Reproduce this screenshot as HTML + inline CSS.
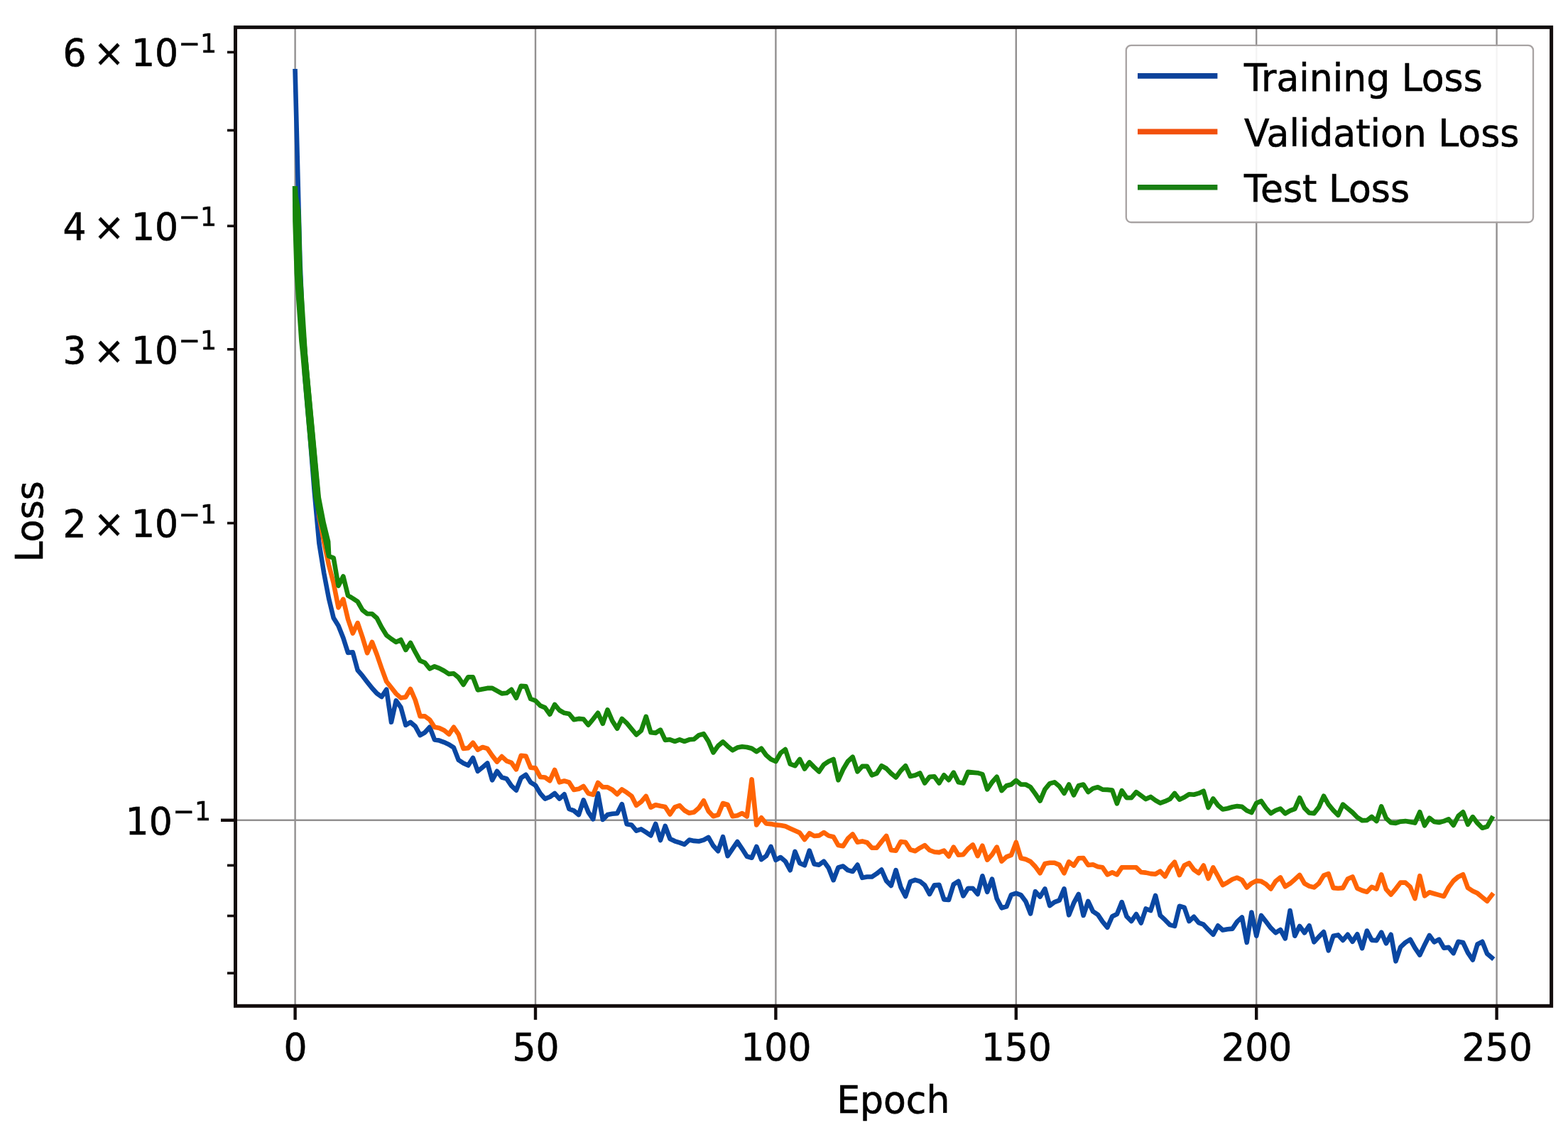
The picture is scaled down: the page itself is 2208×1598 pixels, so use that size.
<!DOCTYPE html>
<html lang="en"><head><meta charset="utf-8"><title>Loss vs Epoch</title>
<style>html,body{margin:0;padding:0;background:#fff;}body{width:2208px;height:1598px;overflow:hidden;}svg{display:block;}text{font-family:"DejaVu Sans","Liberation Sans",sans-serif;fill:#000;stroke:#000;stroke-width:0.6px;}</style>
</head><body>
<svg width="2208" height="1598" viewBox="0 0 2208 1598">
<rect x="0" y="0" width="2208" height="1598" fill="#ffffff"/>
<g stroke="#929090" stroke-width="2.4" fill="none">
<line x1="415.6" y1="38.4" x2="415.6" y2="1416.3"/>
<line x1="754.0" y1="38.4" x2="754.0" y2="1416.3"/>
<line x1="1092.4" y1="38.4" x2="1092.4" y2="1416.3"/>
<line x1="1430.8" y1="38.4" x2="1430.8" y2="1416.3"/>
<line x1="1769.2" y1="38.4" x2="1769.2" y2="1416.3"/>
<line x1="2107.6" y1="38.4" x2="2107.6" y2="1416.3"/>
<line x1="331.5" y1="1154.8" x2="2184.6" y2="1154.8"/>
</g>
<clipPath id="ax"><rect x="331.5" y="38.4" width="1853.1" height="1377.9"/></clipPath>
<g clip-path="url(#ax)" fill="none" stroke-width="6.6" stroke-linejoin="round" stroke-linecap="square">
<polyline stroke="#0a47a2" points="415.6,100.3 422.4,366.0 429.1,528.0 435.9,606.0 442.7,692.0 449.4,765.0 456.2,807.0 463.0,842.5 469.7,870.0 476.5,881.0 483.3,898.0 490.0,918.9 496.8,918.4 503.6,943.5 510.4,951.4 517.1,960.2 523.9,968.8 530.7,976.3 537.4,981.0 544.2,970.8 551.0,1016.7 557.7,986.4 564.5,996.0 571.3,1021.0 578.0,1016.9 584.8,1022.6 591.6,1035.1 598.3,1031.3 605.1,1023.8 611.9,1041.4 618.6,1042.6 625.4,1045.1 632.2,1048.2 638.9,1052.6 645.7,1070.1 652.5,1074.5 659.2,1077.6 666.0,1067.0 672.8,1085.8 679.6,1080.2 686.3,1074.5 693.1,1098.3 699.9,1085.8 706.6,1094.5 713.4,1096.4 720.2,1106.4 726.9,1112.7 733.7,1095.2 740.5,1090.8 747.2,1101.4 754.0,1105.8 760.8,1117.1 767.5,1124.6 774.3,1122.0 781.1,1117.0 787.8,1124.6 794.6,1118.3 801.4,1138.9 808.1,1141.4 814.9,1147.1 821.7,1126.4 828.4,1143.3 835.2,1153.3 842.0,1117.0 848.8,1154.0 855.5,1147.1 862.3,1145.8 869.1,1145.2 875.8,1132.1 882.6,1160.2 889.4,1161.5 896.1,1169.6 902.9,1167.4 909.7,1171.8 916.4,1176.4 923.2,1160.0 930.0,1183.0 936.7,1163.0 943.5,1181.0 950.3,1184.3 957.0,1186.4 963.8,1188.9 970.6,1182.6 977.3,1183.9 984.1,1184.5 990.9,1182.6 997.6,1178.9 1004.4,1190.8 1011.2,1198.3 1018.0,1178.2 1024.7,1205.2 1031.5,1195.1 1038.3,1185.1 1045.0,1195.1 1051.8,1205.8 1058.6,1207.7 1065.3,1192.0 1072.1,1210.2 1078.9,1205.2 1085.6,1192.0 1092.4,1210.8 1099.2,1207.0 1105.9,1212.7 1112.7,1225.2 1119.5,1198.9 1126.2,1215.2 1133.0,1218.3 1139.8,1197.6 1146.5,1216.4 1153.3,1217.7 1160.1,1212.7 1166.8,1222.0 1173.6,1239.2 1180.4,1221.4 1187.2,1219.5 1193.9,1225.1 1200.7,1227.0 1207.5,1217.6 1214.2,1235.8 1221.0,1234.5 1227.8,1234.5 1234.5,1230.1 1241.3,1224.5 1248.1,1240.1 1254.8,1247.0 1261.6,1225.1 1268.4,1248.9 1275.1,1262.0 1281.9,1241.4 1288.7,1238.9 1295.4,1240.8 1302.2,1246.4 1309.0,1258.9 1315.7,1246.4 1322.5,1245.8 1329.3,1266.4 1336.0,1267.0 1342.8,1245.1 1349.6,1240.8 1356.4,1261.4 1363.1,1250.8 1369.9,1250.8 1376.7,1258.9 1383.4,1233.3 1390.2,1255.8 1397.0,1237.6 1403.7,1265.2 1410.5,1278.3 1417.3,1276.4 1424.0,1259.8 1430.8,1257.6 1437.6,1260.1 1444.3,1268.9 1451.1,1286.4 1457.9,1255.1 1464.6,1262.6 1471.4,1251.4 1478.2,1275.1 1484.9,1270.1 1491.7,1267.6 1498.5,1251.4 1505.2,1288.3 1512.0,1271.4 1518.8,1258.9 1525.6,1288.9 1532.3,1268.9 1539.1,1283.3 1545.9,1287.7 1552.6,1297.7 1559.4,1305.8 1566.2,1290.2 1572.9,1287.0 1579.7,1270.1 1586.5,1290.2 1593.2,1297.0 1600.0,1287.0 1606.8,1299.5 1613.5,1279.5 1620.3,1282.0 1627.1,1260.8 1633.8,1288.9 1640.6,1295.2 1647.4,1302.1 1654.1,1303.9 1660.9,1275.8 1667.7,1277.6 1674.4,1297.0 1681.2,1290.8 1688.0,1299.2 1694.8,1301.7 1701.5,1308.9 1708.3,1315.8 1715.1,1303.3 1721.8,1309.5 1728.6,1308.3 1735.4,1307.6 1742.1,1297.6 1748.9,1291.4 1755.7,1327.0 1762.4,1284.5 1769.2,1317.7 1776.0,1288.9 1782.7,1297.6 1789.5,1306.4 1796.3,1313.3 1803.0,1308.9 1809.8,1321.4 1816.6,1282.0 1823.3,1317.7 1830.1,1303.9 1836.9,1313.3 1843.6,1303.3 1850.4,1326.4 1857.2,1318.9 1864.0,1312.0 1870.7,1338.3 1877.5,1317.7 1884.3,1316.4 1891.0,1323.9 1897.8,1315.8 1904.6,1325.8 1911.3,1315.2 1918.1,1335.2 1924.9,1310.5 1931.6,1323.6 1938.4,1324.2 1945.2,1312.6 1951.9,1328.3 1958.7,1315.8 1965.5,1353.3 1972.2,1333.3 1979.0,1327.0 1985.8,1322.7 1992.5,1334.6 1999.3,1344.6 2006.1,1330.2 2012.8,1317.0 2019.6,1326.4 2026.4,1322.7 2033.2,1334.6 2039.9,1333.9 2046.7,1342.1 2053.5,1325.8 2060.2,1327.0 2067.0,1341.4 2073.8,1351.5 2080.5,1329.5 2087.3,1325.8 2094.1,1342.7 2100.8,1348.3"/>
<polyline stroke="#ff6404" points="415.6,280.0 422.4,425.0 429.1,503.0 435.9,578.0 442.7,655.0 449.4,727.0 456.2,763.0 463.0,795.5 469.7,821.0 476.5,855.4 483.3,843.6 490.0,871.7 496.8,891.7 503.6,877.1 510.4,897.0 517.1,919.3 523.9,904.0 530.7,921.5 537.4,941.0 544.2,959.5 551.0,968.0 557.7,976.6 564.5,982.6 571.3,981.4 578.0,970.0 584.8,985.7 591.6,1008.5 598.3,1008.3 605.1,1013.3 611.9,1023.8 618.6,1025.1 625.4,1028.2 632.2,1033.8 638.9,1023.8 645.7,1033.8 652.5,1053.9 659.2,1053.2 666.0,1045.7 672.8,1055.7 679.6,1052.0 686.3,1053.9 693.1,1063.9 699.9,1072.6 706.6,1065.1 713.4,1071.4 720.2,1073.9 726.9,1083.3 733.7,1063.9 740.5,1064.5 747.2,1080.8 754.0,1081.4 760.8,1093.9 767.5,1094.5 774.3,1099.2 781.1,1083.9 787.8,1101.4 794.6,1099.5 801.4,1101.4 808.1,1112.0 814.9,1110.8 821.7,1107.0 828.4,1117.0 835.2,1118.9 842.0,1102.0 848.8,1108.3 855.5,1108.3 862.3,1112.0 869.1,1118.3 875.8,1111.4 882.6,1115.8 889.4,1120.8 896.1,1133.9 902.9,1128.9 909.7,1121.0 916.4,1136.7 923.2,1133.2 930.0,1134.8 936.7,1136.0 943.5,1146.4 950.3,1136.4 957.0,1134.2 963.8,1141.0 970.6,1144.8 977.3,1143.5 984.1,1137.6 990.9,1127.3 997.6,1142.0 1004.4,1149.2 1011.2,1147.4 1018.0,1131.0 1024.7,1133.0 1031.5,1149.2 1038.3,1148.2 1045.0,1145.1 1051.8,1149.5 1058.6,1097.2 1065.3,1161.4 1072.1,1151.3 1078.9,1159.5 1085.6,1160.1 1092.4,1161.4 1099.2,1162.0 1105.9,1163.2 1112.7,1166.4 1119.5,1169.5 1126.2,1172.6 1133.0,1182.0 1139.8,1173.2 1146.5,1177.0 1153.3,1176.4 1160.1,1172.0 1166.8,1176.6 1173.6,1178.2 1180.4,1190.1 1187.2,1191.3 1193.9,1180.7 1200.7,1174.4 1207.5,1185.7 1214.2,1184.4 1221.0,1186.3 1227.8,1193.8 1234.5,1193.8 1241.3,1185.1 1248.1,1176.9 1254.8,1197.0 1261.6,1197.6 1268.4,1185.1 1275.1,1185.7 1281.9,1196.3 1288.7,1198.2 1295.4,1193.8 1302.2,1190.1 1309.0,1197.0 1315.7,1199.5 1322.5,1200.1 1329.3,1197.6 1336.0,1205.7 1342.8,1192.6 1349.6,1203.8 1356.4,1203.2 1363.1,1195.1 1369.9,1189.4 1376.7,1205.1 1383.4,1190.7 1390.2,1210.7 1397.0,1203.2 1403.7,1192.6 1410.5,1212.6 1417.3,1206.3 1424.0,1203.8 1430.8,1185.9 1437.6,1208.2 1444.3,1209.8 1451.1,1213.0 1457.9,1220.1 1464.6,1229.3 1471.4,1216.0 1478.2,1214.8 1484.9,1214.8 1491.7,1217.6 1498.5,1229.3 1505.2,1213.3 1512.0,1218.6 1518.8,1208.3 1525.6,1208.0 1532.3,1218.0 1539.1,1217.3 1545.9,1220.3 1552.6,1221.3 1559.4,1231.4 1566.2,1228.2 1572.9,1231.4 1579.7,1221.3 1586.5,1221.3 1593.2,1221.3 1600.0,1221.3 1606.8,1228.0 1613.5,1228.6 1620.3,1230.1 1627.1,1230.7 1633.8,1226.7 1640.6,1233.9 1647.4,1221.3 1654.1,1213.8 1660.9,1232.0 1667.7,1218.5 1674.4,1215.1 1681.2,1224.5 1688.0,1229.2 1694.8,1218.5 1701.5,1237.0 1708.3,1221.3 1715.1,1233.5 1721.8,1246.0 1728.6,1242.3 1735.4,1238.0 1742.1,1235.7 1748.9,1238.9 1755.7,1249.5 1762.4,1243.6 1769.2,1240.1 1776.0,1240.8 1782.7,1244.8 1789.5,1251.5 1796.3,1240.8 1803.0,1235.4 1809.8,1248.2 1816.6,1243.9 1823.3,1238.2 1830.1,1231.9 1836.9,1243.8 1843.6,1247.6 1850.4,1249.4 1857.2,1243.8 1864.0,1232.6 1870.7,1230.1 1877.5,1250.1 1884.3,1250.7 1891.0,1250.1 1897.8,1237.6 1904.6,1234.4 1911.3,1250.7 1918.1,1253.8 1924.9,1255.7 1931.6,1248.8 1938.4,1251.6 1945.2,1231.3 1951.9,1252.0 1958.7,1259.5 1965.5,1251.3 1972.2,1242.6 1979.0,1242.6 1985.8,1248.8 1992.5,1265.1 1999.3,1233.2 2006.1,1261.3 2012.8,1256.3 2019.6,1258.2 2026.4,1260.1 2033.2,1262.0 2039.9,1249.4 2046.7,1240.1 2053.5,1234.4 2060.2,1231.3 2067.0,1250.1 2073.8,1254.5 2080.5,1257.6 2087.3,1263.2 2094.1,1268.8 2100.8,1260.1"/>
<polyline stroke="#178509" points="415.6,266.0 422.4,410.0 429.1,491.0 435.9,566.0 442.7,640.0 449.4,714.8 456.2,749.5 463.0,783.0 469.7,785.6 476.5,824.8 483.3,811.4 490.0,838.4 496.8,842.5 503.6,847.0 510.4,858.9 517.1,864.2 523.9,864.2 530.7,870.3 537.4,883.2 544.2,894.3 551.0,899.5 557.7,904.0 564.5,900.8 571.3,915.1 578.0,905.0 584.8,918.2 591.6,930.3 598.3,933.0 605.1,941.5 611.9,938.3 618.6,940.8 625.4,944.5 632.2,948.9 638.9,948.3 645.7,953.9 652.5,963.9 659.2,953.3 666.0,953.3 672.8,971.4 679.6,970.2 686.3,968.9 693.1,968.9 699.9,972.7 706.6,976.4 713.4,975.8 720.2,970.8 726.9,982.7 733.7,965.8 740.5,966.4 747.2,984.0 754.0,986.5 760.8,993.5 767.5,996.4 774.3,1005.7 781.1,991.9 787.8,1000.0 794.6,1003.8 801.4,1005.0 808.1,1013.2 814.9,1011.9 821.7,1012.5 828.4,1020.7 835.2,1012.5 842.0,1003.8 848.8,1018.8 855.5,999.4 862.3,1015.0 869.1,1025.7 875.8,1011.9 882.6,1018.2 889.4,1026.3 896.1,1034.4 902.9,1028.8 909.7,1008.8 916.4,1031.3 923.2,1031.9 930.0,1027.6 936.7,1041.9 943.5,1041.3 950.3,1043.8 957.0,1041.3 963.8,1043.8 970.6,1041.3 977.3,1040.7 984.1,1035.1 990.9,1033.2 997.6,1043.8 1004.4,1059.5 1011.2,1050.1 1018.0,1044.4 1024.7,1050.7 1031.5,1056.3 1038.3,1052.6 1045.0,1051.3 1051.8,1052.0 1058.6,1053.8 1065.3,1058.2 1072.1,1053.8 1078.9,1063.2 1085.6,1068.9 1092.4,1072.0 1099.2,1060.1 1105.9,1055.1 1112.7,1075.7 1119.5,1078.2 1126.2,1068.9 1133.0,1082.6 1139.8,1073.2 1146.5,1080.1 1153.3,1086.4 1160.1,1076.4 1166.8,1072.0 1173.6,1068.9 1180.4,1098.3 1187.2,1083.3 1193.9,1072.0 1200.7,1065.7 1207.5,1086.4 1214.2,1078.9 1221.0,1078.9 1227.8,1091.4 1234.5,1088.9 1241.3,1078.2 1248.1,1082.0 1254.8,1088.9 1261.6,1094.5 1268.4,1085.1 1275.1,1078.2 1281.9,1093.0 1288.7,1091.6 1295.4,1088.5 1302.2,1102.6 1309.0,1093.8 1315.7,1093.2 1322.5,1102.6 1329.3,1091.3 1336.0,1098.2 1342.8,1087.6 1349.6,1101.3 1356.4,1102.6 1363.1,1086.9 1369.9,1087.6 1376.7,1088.2 1383.4,1090.1 1390.2,1111.4 1397.0,1101.3 1403.7,1093.8 1410.5,1113.2 1417.3,1106.3 1424.0,1104.5 1430.8,1098.8 1437.6,1104.5 1444.3,1104.5 1451.1,1108.2 1457.9,1117.6 1464.6,1127.6 1471.4,1111.4 1478.2,1103.2 1484.9,1101.3 1491.7,1107.0 1498.5,1117.0 1505.2,1104.5 1512.0,1119.5 1518.8,1106.3 1525.6,1104.5 1532.3,1115.1 1539.1,1110.1 1545.9,1108.2 1552.6,1111.6 1559.4,1111.9 1566.2,1112.6 1572.9,1131.3 1579.7,1113.2 1586.5,1123.2 1593.2,1123.2 1600.0,1115.1 1606.8,1120.1 1613.5,1125.1 1620.3,1121.9 1627.1,1126.9 1633.8,1130.7 1640.6,1128.2 1647.4,1125.1 1654.1,1116.9 1660.9,1125.7 1667.7,1122.6 1674.4,1118.2 1681.2,1118.8 1688.0,1116.9 1694.8,1113.8 1701.5,1137.0 1708.3,1124.4 1715.1,1133.8 1721.8,1139.5 1728.6,1138.2 1735.4,1136.3 1742.1,1135.1 1748.9,1135.7 1755.7,1141.3 1762.4,1144.0 1769.2,1130.7 1776.0,1127.9 1782.7,1137.6 1789.5,1145.1 1796.3,1141.0 1803.0,1138.5 1809.8,1145.4 1816.6,1141.4 1823.3,1138.9 1830.1,1123.2 1836.9,1137.6 1843.6,1144.5 1850.4,1145.1 1857.2,1136.4 1864.0,1120.7 1870.7,1132.6 1877.5,1140.8 1884.3,1147.6 1891.0,1132.6 1897.8,1138.2 1904.6,1143.9 1911.3,1150.8 1918.1,1155.1 1924.9,1155.0 1931.6,1149.8 1938.4,1156.1 1945.2,1135.4 1951.9,1152.0 1958.7,1158.3 1965.5,1158.9 1972.2,1156.7 1979.0,1156.1 1985.8,1157.3 1992.5,1158.6 1999.3,1143.3 2006.1,1162.3 2012.8,1151.7 2019.6,1157.0 2026.4,1158.0 2033.2,1156.1 2039.9,1153.3 2046.7,1162.0 2053.5,1148.9 2060.2,1143.3 2067.0,1160.8 2073.8,1150.1 2080.5,1158.9 2087.3,1165.8 2094.1,1163.9 2100.8,1152.0"/>
<polygon fill="#178509" stroke="none" points="411.8,262.0 412.2,312.0 414.5,385.0 421.2,481.0 423.2,500.0 431.9,600.0 441.3,700.0 448.6,735.0 455.6,762.0 459.6,781.0 466.4,781.0 465.4,762.0 458.8,735.0 452.0,700.0 442.6,600.0 433.2,500.0 432.0,481.0 425.9,385.0 424.0,312.0 423.3,295.0 419.6,275.0 419.0,262.0"/>
</g>
<g stroke="#120c0c" fill="none">
<line x1="415.6" y1="1416.3" x2="415.6" y2="1435.8" stroke-width="4.4"/>
<line x1="754.0" y1="1416.3" x2="754.0" y2="1435.8" stroke-width="4.4"/>
<line x1="1092.4" y1="1416.3" x2="1092.4" y2="1435.8" stroke-width="4.4"/>
<line x1="1430.8" y1="1416.3" x2="1430.8" y2="1435.8" stroke-width="4.4"/>
<line x1="1769.2" y1="1416.3" x2="1769.2" y2="1435.8" stroke-width="4.4"/>
<line x1="2107.6" y1="1416.3" x2="2107.6" y2="1435.8" stroke-width="4.4"/>
<line x1="311.0" y1="1154.8" x2="331.5" y2="1154.8" stroke-width="4.4"/>
<line x1="320.0" y1="73.5" x2="331.5" y2="73.5" stroke-width="3.6"/>
<line x1="320.0" y1="183.5" x2="331.5" y2="183.5" stroke-width="3.6"/>
<line x1="320.0" y1="318.2" x2="331.5" y2="318.2" stroke-width="3.6"/>
<line x1="320.0" y1="491.8" x2="331.5" y2="491.8" stroke-width="3.6"/>
<line x1="320.0" y1="736.5" x2="331.5" y2="736.5" stroke-width="3.6"/>
<line x1="320.0" y1="1218.4" x2="331.5" y2="1218.4" stroke-width="3.6"/>
<line x1="320.0" y1="1289.5" x2="331.5" y2="1289.5" stroke-width="3.6"/>
<line x1="320.0" y1="1370.1" x2="331.5" y2="1370.1" stroke-width="3.6"/>
<rect x="331.5" y="38.4" width="1853.1" height="1377.9" stroke-width="5"/>
</g>
<text transform="translate(416.1,1492.9) scale(1,1.040)" font-size="52.0" text-anchor="middle">0</text>
<text transform="translate(754.5,1492.9) scale(1,1.040)" font-size="52.0" text-anchor="middle">50</text>
<text transform="translate(1092.9,1492.9) scale(1,1.040)" font-size="52.0" text-anchor="middle">100</text>
<text transform="translate(1431.3,1492.9) scale(1,1.040)" font-size="52.0" text-anchor="middle">150</text>
<text transform="translate(1769.7,1492.9) scale(1,1.040)" font-size="52.0" text-anchor="middle">200</text>
<text transform="translate(2108.1,1492.9) scale(1,1.040)" font-size="52.0" text-anchor="middle">250</text>
<text transform="translate(1257.8,1567.0) scale(1,1.040)" font-size="52.0" text-anchor="middle">Epoch</text>
<text transform="translate(60.0,734.2) rotate(-90) scale(1,1.040)" font-size="52.0" text-anchor="middle">Loss</text>
<text transform="translate(88.4,93.2) scale(1,1.040)" font-size="52.0">6</text><text transform="translate(131.8,93.2) scale(1,1.040)" font-size="52.0">×</text><text transform="translate(185.0,93.2) scale(1,1.040)" font-size="52.0">10</text><text transform="translate(251.5,73.6) scale(1,1.040)" font-size="36.4">−1</text>
<text transform="translate(88.4,337.9) scale(1,1.040)" font-size="52.0">4</text><text transform="translate(131.8,337.9) scale(1,1.040)" font-size="52.0">×</text><text transform="translate(185.0,337.9) scale(1,1.040)" font-size="52.0">10</text><text transform="translate(251.5,318.3) scale(1,1.040)" font-size="36.4">−1</text>
<text transform="translate(88.4,511.5) scale(1,1.040)" font-size="52.0">3</text><text transform="translate(131.8,511.5) scale(1,1.040)" font-size="52.0">×</text><text transform="translate(185.0,511.5) scale(1,1.040)" font-size="52.0">10</text><text transform="translate(251.5,491.9) scale(1,1.040)" font-size="36.4">−1</text>
<text transform="translate(88.4,756.2) scale(1,1.040)" font-size="52.0">2</text><text transform="translate(131.8,756.2) scale(1,1.040)" font-size="52.0">×</text><text transform="translate(185.0,756.2) scale(1,1.040)" font-size="52.0">10</text><text transform="translate(251.5,736.6) scale(1,1.040)" font-size="36.4">−1</text>
<text transform="translate(176.6,1174.8) scale(1,1.040)" font-size="52.0">10</text><text transform="translate(243.6,1155.1) scale(1,1.040)" font-size="36.4">−1</text>
<rect x="1585.8" y="63.8" width="573.2" height="249.2" rx="7" ry="7" fill="#ffffff" fill-opacity="0.9" stroke="#a8a3a3" stroke-width="2.3"/>
<line x1="1605.8" y1="106.9" x2="1710.6" y2="106.9" stroke="#0d429a" stroke-width="7.6" stroke-linecap="square"/>
<text transform="translate(1752.0,127.5) scale(1,1.040)" font-size="52.0">Training Loss</text>
<line x1="1605.8" y1="185.4" x2="1710.6" y2="185.4" stroke="#f2500c" stroke-width="7.6" stroke-linecap="square"/>
<text transform="translate(1752.0,206.0) scale(1,1.040)" font-size="52.0">Validation Loss</text>
<line x1="1605.8" y1="263.7" x2="1710.6" y2="263.7" stroke="#187f12" stroke-width="7.6" stroke-linecap="square"/>
<text transform="translate(1752.0,284.4) scale(1,1.040)" font-size="52.0">Test Loss</text>
</svg>
</body></html>
